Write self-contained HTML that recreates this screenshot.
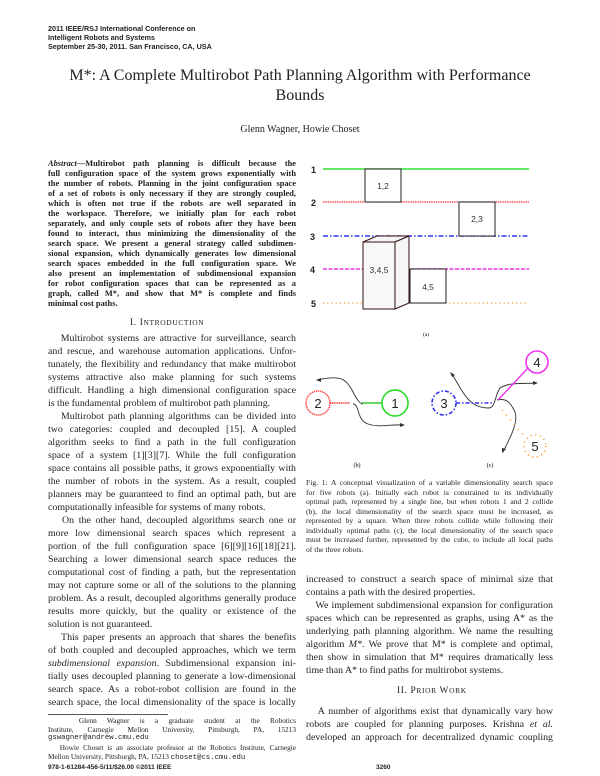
<!DOCTYPE html>
<html><head><meta charset="utf-8"><style>
body{margin:0;background:#fff;}
#p{position:relative;width:600px;height:776px;overflow:hidden;font-family:"Liberation Serif",serif;color:#222;}
.l{position:absolute;white-space:nowrap;text-align:justify;text-align-last:justify;}
.L{left:48px;width:248px;}
.R{left:306px;width:247px;}
.b{font-size:9.9px;}
.a{font-size:8.4px;font-weight:bold;}
.c{font-size:7.6px;}
.f{font-size:7.3px;}
.n{text-align-last:left;}
.h{font-family:"Liberation Sans",sans-serif;font-weight:bold;font-size:7.2px;position:absolute;left:48px;white-space:nowrap;}
.s{position:absolute;font-size:9.5px;letter-spacing:.6px;}
</style></head><body><div id="p">
<div class="h" style="top:24px">2011 IEEE/RSJ International Conference on</div>
<div class="h" style="top:33px">Intelligent Robots and Systems</div>
<div class="h" style="top:42px">September 25-30, 2011. San Francisco, CA, USA</div>
<div style="position:absolute;left:40px;width:520px;top:66px;text-align:center;font-size:16px;line-height:20px">M*: A Complete Multirobot Path Planning Algorithm with Performance<br>Bounds</div>
<div style="position:absolute;left:0;width:600px;top:124px;text-align:center;font-size:10px">Glenn Wagner, Howie Choset</div>

<div class="l L a" style="top:159px"><i>Abstract</i>—Multirobot path planning is difficult because the</div>
<div class="l L a" style="top:169px">full configuration space of the system grows exponentially with</div>
<div class="l L a" style="top:179px">the number of robots. Planning in the joint configuration space</div>
<div class="l L a" style="top:189px">of a set of robots is only necessary if they are strongly coupled,</div>
<div class="l L a" style="top:199px">which is often not true if the robots are well separated in</div>
<div class="l L a" style="top:209px">the workspace. Therefore, we initially plan for each robot</div>
<div class="l L a" style="top:219px">separately, and only couple sets of robots after they have been</div>
<div class="l L a" style="top:229px">found to interact, thus minimizing the dimensionality of the</div>
<div class="l L a" style="top:239px">search space. We present a general strategy called subdimen-</div>
<div class="l L a" style="top:249px">sional expansion, which dynamically generates low dimensional</div>
<div class="l L a" style="top:259px">search spaces embedded in the full configuration space. We</div>
<div class="l L a" style="top:269px">also present an implementation of subdimensional expansion</div>
<div class="l L a" style="top:279px">for robot configuration spaces that can be represented as a</div>
<div class="l L a" style="top:289px">graph, called M*, and show that M* is complete and finds</div>
<div class="l L a n" style="top:299px">minimal cost paths.</div>

<div class="s" style="left:130px;top:318px">I. I<span style="font-size:7.5px">NTRODUCTION</span></div>

<div class="l L b" style="top:333px">&nbsp;&nbsp;&nbsp;Multirobot systems are attractive for surveillance, search</div>
<div class="l L b" style="top:346px">and rescue, and warehouse automation applications. Unfor-</div>
<div class="l L b" style="top:359px">tunately, the flexibility and redundancy that make multirobot</div>
<div class="l L b" style="top:372px">systems attractive also make planning for such systems</div>
<div class="l L b" style="top:385px">difficult. Handling a high dimensional configuration space</div>
<div class="l L b n" style="top:398px">is the fundamental problem of multirobot path planning.</div>
<div class="l L b" style="top:411px">&nbsp;&nbsp;&nbsp;Multirobot path planning algorithms can be divided into</div>
<div class="l L b" style="top:424px">two categories: coupled and decoupled [15]. A coupled</div>
<div class="l L b" style="top:437px">algorithm seeks to find a path in the full configuration</div>
<div class="l L b" style="top:450px">space of a system [1][3][7]. While the full configuration</div>
<div class="l L b" style="top:463px">space contains all possible paths, it grows exponentially with</div>
<div class="l L b" style="top:476px">the number of robots in the system. As a result, coupled</div>
<div class="l L b" style="top:489px">planners may be guaranteed to find an optimal path, but are</div>
<div class="l L b n" style="top:502px">computationally infeasible for systems of many robots.</div>
<div class="l L b" style="top:515px">&nbsp;&nbsp;&nbsp;On the other hand, decoupled algorithms search one or</div>
<div class="l L b" style="top:528px">more low dimensional search spaces which represent a</div>
<div class="l L b" style="top:541px">portion of the full configuration space [6][9][16][18][21].</div>
<div class="l L b" style="top:554px">Searching a lower dimensional search space reduces the</div>
<div class="l L b" style="top:567px">computational cost of finding a path, but the representation</div>
<div class="l L b" style="top:580px">may not capture some or all of the solutions to the planning</div>
<div class="l L b" style="top:593px">problem. As a result, decoupled algorithms generally produce</div>
<div class="l L b" style="top:606px">results more quickly, but the quality or existence of the</div>
<div class="l L b n" style="top:619px">solution is not guaranteed.</div>
<div class="l L b" style="top:632px">&nbsp;&nbsp;&nbsp;This paper presents an approach that shares the benefits</div>
<div class="l L b" style="top:645px">of both coupled and decoupled approaches, which we term</div>
<div class="l L b" style="top:658px"><i>subdimensional expansion</i>. Subdimensional expansion ini-</div>
<div class="l L b" style="top:671px">tially uses decoupled planning to generate a low-dimensional</div>
<div class="l L b" style="top:684px">search space. As a robot-robot collision are found in the</div>
<div class="l L b" style="top:697px">search space, the local dimensionality of the space is locally</div>

<div style="position:absolute;left:48px;top:714px;width:120px;border-top:0.5px solid #555"></div>
<div class="l L f" style="top:716px">&nbsp;&nbsp;&nbsp;Glenn Wagner is a graduate student at the Robotics</div>
<div class="l L f" style="top:725px">Institute, Carnegie Mellon University, Pittsburgh, PA, 15213</div>
<div class="l L f n" style="top:734px;font-family:'Liberation Mono',monospace">gswagner@andrew.cmu.edu</div>
<div class="l L f" style="top:743px">&nbsp;&nbsp;&nbsp;Howie Choset is an associate professor at the Robotics Institute, Carnegie</div>
<div class="l L f n" style="top:752px">Mellon University, Pittsburgh, PA, 15213 <span style="font-family:'Liberation Mono',monospace">choset@cs.cmu.edu</span></div>
<div class="h" style="top:764px;font-size:6.5px">978-1-61284-456-5/11/$26.00 ©2011 IEEE</div>
<div class="h" style="top:764px;left:376px;font-size:6.5px">3260</div>

<svg style="position:absolute;left:0;top:0" width="600" height="776" font-family="Liberation Sans,sans-serif">
<g font-size="9" font-weight="bold" fill="#222">
<text x="311" y="173">1</text><text x="311" y="206">2</text><text x="310" y="240">3</text><text x="310" y="273">4</text><text x="311" y="307">5</text></g>
<line x1="323" y1="169" x2="529" y2="169" stroke="#3d3" stroke-width="1.6"/>
<line x1="323" y1="202" x2="529" y2="202" stroke="#f33" stroke-width="1.3" stroke-dasharray="1.5,0.8"/>
<line x1="323" y1="236" x2="529" y2="236" stroke="#33e" stroke-width="1.4" stroke-dasharray="5,2,1.5,2"/>
<line x1="323" y1="269" x2="529" y2="269" stroke="#e3e" stroke-width="1.4" stroke-dasharray="4,1.5"/>
<line x1="323" y1="303" x2="527" y2="303" stroke="#f93" stroke-width="1.2" stroke-dasharray="1.2,3"/>
<g stroke="#222" stroke-width="1" fill="#fff">
<rect x="365" y="169" width="36" height="33"/>
<rect x="459" y="202" width="36" height="34"/>
<rect x="410" y="269" width="36" height="34"/>
<polygon points="363,242 377,236 409,236 395,242" fill="#f6f6f6" stroke="#311"/>
<polygon points="395,242 409,236 409,303 395,309" fill="#f6f6f6" stroke="#311"/>
<rect x="363" y="242" width="32" height="67" fill="#f8f8f8" stroke="#311"/>
</g>
<g font-size="8.5" fill="#333" text-anchor="middle">
<text x="383" y="189">1,2</text><text x="477" y="222">2,3</text><text x="379" y="273">3,4,5</text><text x="428" y="290">4,5</text></g>
<text x="426" y="336" font-size="5.5" font-family="Liberation Serif,serif" text-anchor="middle">(a)</text>
<g fill="none" stroke="#333" stroke-width="0.9">
<path d="M317,380 C340,375 345,378 352,390 C357,400 360,404 363,404"/>
<path d="M353,404 C360,404 356,420 368,424 C380,428 390,424 404,425"/>
<path d="M452,374 C462,390 468,408 488,408 C496,408 494,397 500,388 C510,382 520,384 537,383"/>
<path d="M497,400 C506,398 510,402 514,410 C520,420 510,438 503,452"/>
</g>
<g fill="#333"><polygon points="316,380 321,378 321,382"/><polygon points="405,425 400,423 400,427"/><polygon points="450,372 455,375 452,377"/><polygon points="538,383 533,381 533,385"/><polygon points="502,453 502,448 506,449"/></g>
<line x1="330" y1="403" x2="350" y2="403" stroke="#f33" stroke-width="1.4" stroke-dasharray="1.2,0.6"/>
<line x1="362" y1="403" x2="382" y2="403" stroke="#3c3" stroke-width="1.6"/>
<circle cx="318" cy="403" r="12" fill="none" stroke="#f33" stroke-width="1.5" stroke-dasharray="1.2,0.8"/>
<circle cx="395" cy="403" r="13" fill="none" stroke="#3d3" stroke-width="1.7"/>
<text x="318" y="408" font-size="13" text-anchor="middle" fill="#222">2</text>
<text x="395" y="408" font-size="13" text-anchor="middle" fill="#222">1</text>
<line x1="456" y1="403" x2="492" y2="403" stroke="#33e" stroke-width="1.4" stroke-dasharray="4,2,1.5,2"/>
<circle cx="444" cy="403" r="12" fill="none" stroke="#33e" stroke-width="1.6" stroke-dasharray="4,2,1.5,2"/>
<text x="444" y="408" font-size="13" text-anchor="middle" fill="#222">3</text>
<line x1="528" y1="368" x2="498" y2="400" stroke="#e3e" stroke-width="1.4"/>
<circle cx="537" cy="362" r="11" fill="none" stroke="#e3e" stroke-width="1.6"/>
<text x="537" y="367" font-size="13" text-anchor="middle" fill="#222">4</text>
<line x1="502" y1="410" x2="524" y2="436" stroke="#f93" stroke-width="1.3" stroke-dasharray="1.2,5"/>
<circle cx="535" cy="446" r="11" fill="none" stroke="#f93" stroke-width="1.5" stroke-dasharray="1.2,3.5"/>
<text x="535" y="451" font-size="13" text-anchor="middle" fill="#222">5</text>
<g font-size="6" font-family="Liberation Serif,serif" text-anchor="middle"><text x="357" y="467">(b)</text><text x="490" y="467">(c)</text></g>
</svg>

<div class="l R c" style="top:478px">Fig. 1: A conceptual visualization of a variable dimensionality search space</div>
<div class="l R c" style="top:487.5px">for five robots (a). Initially each robot is constrained to its individually</div>
<div class="l R c" style="top:497px">optimal path, represented by a single line, but when robots 1 and 2 collide</div>
<div class="l R c" style="top:506.5px">(b), the local dimensionality of the search space must be increased, as</div>
<div class="l R c" style="top:516px">represented by a square. When three robots collide while following their</div>
<div class="l R c" style="top:525.5px">individually optimal paths (c), the local dimensionality of the search space</div>
<div class="l R c" style="top:535px">must be increased further, represented by the cube, to include all local paths</div>
<div class="l R c n" style="top:544.5px">of the three robots.</div>

<div class="l R b" style="top:574px">increased to construct a search space of minimal size that</div>
<div class="l R b n" style="top:587px">contains a path with the desired properties.</div>
<div class="l R b" style="top:600px">&nbsp;&nbsp;&nbsp;We implement subdimensional expansion for configuration</div>
<div class="l R b" style="top:613px">spaces which can be represented as graphs, using A* as the</div>
<div class="l R b" style="top:626px">underlying path planning algorithm. We name the resulting</div>
<div class="l R b" style="top:639px">algorithm <i>M*</i>. We prove that M* is complete and optimal,</div>
<div class="l R b" style="top:652px">then show in simulation that M* requires dramatically less</div>
<div class="l R b n" style="top:665px">time than A* to find paths for multirobot systems.</div>
<div class="s" style="left:397px;top:686px">II. P<span style="font-size:7.5px">RIOR</span> W<span style="font-size:7.5px">ORK</span></div>
<div class="l R b" style="top:706px">&nbsp;&nbsp;&nbsp;A number of algorithms exist that dynamically vary how</div>
<div class="l R b" style="top:719px">robots are coupled for planning purposes. Krishna <i>et al.</i></div>
<div class="l R b" style="top:732px">developed an approach for decentralized dynamic coupling</div>
</div></body></html>
